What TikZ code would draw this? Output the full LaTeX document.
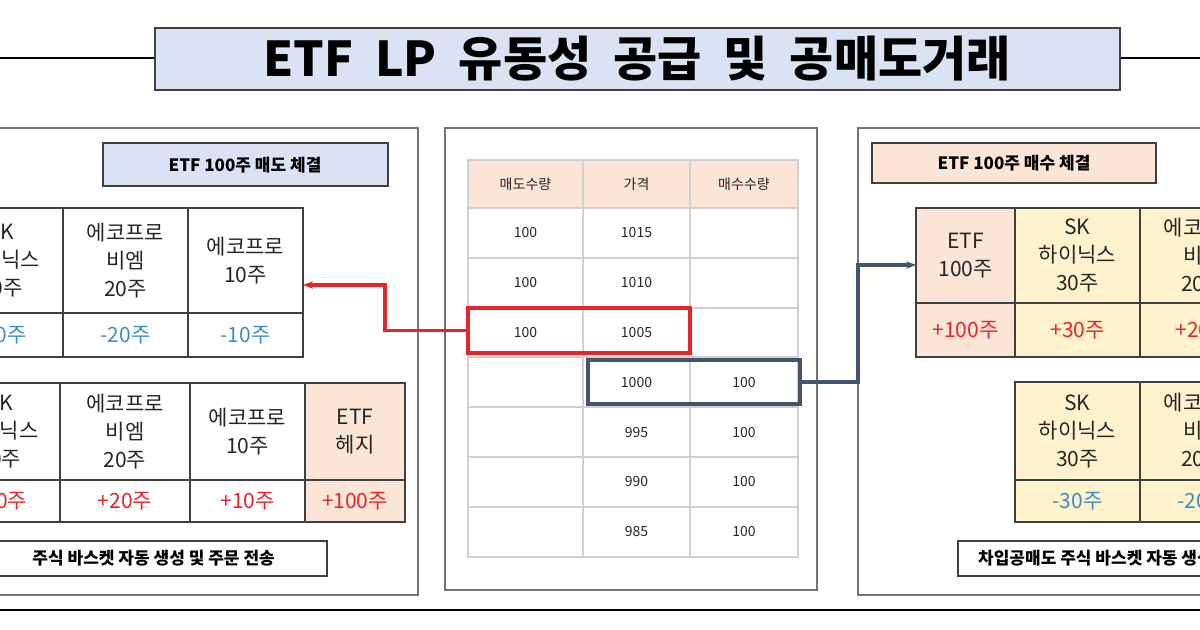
\documentclass[tikz,border=0pt]{standalone}
\usepackage{fontspec}
\setmainfont{Noto Sans CJK KR}
\newfontfamily\kr{Noto Sans CJK KR}
\usetikzlibrary{arrows.meta}
\definecolor{peach}{HTML}{FBE5D6}
\definecolor{lblue}{HTML}{DAE3F3}
\definecolor{lyel}{HTML}{FFF2CC}
\definecolor{nred}{HTML}{E8242B}
\definecolor{nblue}{HTML}{3A8FC8}
\definecolor{dk}{HTML}{404040}
\definecolor{navy}{HTML}{44546A}
\newcommand{\cellbox}[7]{\path[fill=#6,draw=dk,line width=1.2pt] (#2,#3) rectangle (#4,#5);
 \node[txt] (#1) at ({(#2+#4)/2},{(#3+#5)/2}) {#7};}
\newcommand{\obcell}[7]{\path[fill=#6,draw=black!18,line width=1pt] (#2,#3) rectangle (#4,#5);
 \node[obt] (#1) at ({(#2+#4)/2},{(#3+#5)/2}) {#7};}
\tikzset{txt/.style={align=center,font=\fontsize{10.5}{14}\selectfont,text=black!85,inner sep=0pt},
 obt/.style={font=\fontsize{7}{9}\selectfont,text=black!85,inner sep=0pt},
 panel/.style={draw=black!55,line width=1pt},
 lab/.style={draw=dk,line width=1.2pt,font=\fontsize{8.5}{11}\selectfont\bfseries,inner sep=0pt}}
\begin{document}
\begin{tikzpicture}[x=0.5pt,y=-0.5pt]
\useasboundingbox (0,0) rectangle (1200,630);
\clip (0,0) rectangle (1200,630);
\fill[white] (0,0) rectangle (1200,630);
% title
\draw[black,line width=1pt] (0,58) -- (155,58) (1120,58) -- (1200,58);
\path[fill=lblue,draw=dk,line width=1.4pt] (155,28) rectangle (1120,90);
\node[font=\fontsize{24}{28}\selectfont\bfseries] (title) at (637,59) {ETF\ \ LP\ \ 유동성\ \ 공급\ \ 및\ \ 공매도거래};
\draw[black,line width=1pt] (0,610) -- (1200,610);
% panels
\draw[panel] (-5,128) rectangle (418,595);
\draw[panel] (445,128) rectangle (817,590);
\draw[panel] (858,128) rectangle (1205,595);
% left panel
\path[fill=lblue,draw=dk,line width=1.2pt] (103,143) rectangle (388,186);
\node[lab,draw=none] (lt) at (245,165) {ETF 100주 매도 체결};
\cellbox{a1}{-60}{208}{63}{313}{white}{SK\\하이닉스\\30주}
\cellbox{a2}{63}{208}{188}{313}{white}{에코프로\\비엠\\20주}
\cellbox{a3}{188}{208}{303}{313}{white}{에코프로\\10주}
\cellbox{b1}{-60}{313}{63}{357}{white}{\textcolor{nblue}{-30주}}
\cellbox{b2}{63}{313}{188}{357}{white}{\textcolor{nblue}{-20주}}
\cellbox{b3}{188}{313}{303}{357}{white}{\textcolor{nblue}{-10주}}
\cellbox{c1}{-60}{383}{60}{480}{white}{SK\\하이닉스\\30주}
\cellbox{c2}{60}{383}{190}{480}{white}{에코프로\\비엠\\20주}
\cellbox{c3}{190}{383}{305}{480}{white}{에코프로\\10주}
\cellbox{c4}{305}{383}{405}{480}{peach}{ETF\\헤지}
\cellbox{d1}{-60}{480}{60}{522}{white}{\textcolor{nred}{+30주}}
\cellbox{d2}{60}{480}{190}{522}{white}{\textcolor{nred}{+20주}}
\cellbox{d3}{190}{480}{305}{522}{white}{\textcolor{nred}{+10주}}
\cellbox{d4}{305}{480}{405}{522}{peach}{\textcolor{nred}{+100주}}
\path[fill=white,draw=dk,line width=1.2pt] (-10,541) rectangle (327,576);
\node[lab,draw=none,anchor=east] (lb) at (276,558) {주식 바스켓 자동 생성 및 주문 전송};
% order book
\obcell{h1}{468}{160}{583}{208}{peach}{매도수량}
\obcell{h2}{583}{160}{690}{208}{peach}{가격}
\obcell{h3}{690}{160}{798}{208}{peach}{매수수량}
\foreach \i/\s/\p/\b in {0/100/1015/,1/100/1010/,2/100/1005/,3//1000/100,4//995/100,5//990/100,6//985/100}{
 \pgfmathsetmacro\ya{208+49.8*\i}\pgfmathsetmacro\yb{258+49.8*\i}
 \obcell{s\i}{468}{\ya}{583}{\yb}{white}{\s}
 \obcell{p\i}{583}{\ya}{690}{\yb}{white}{\p}
 \obcell{q\i}{690}{\ya}{798}{\yb}{white}{\b}
}
\node[draw=nred,line width=1.6pt,minimum width=111pt,minimum height=22.5pt,inner sep=0pt] (red) at (579,330.5) {};
\node[draw=navy,line width=1.6pt,minimum width=106pt,minimum height=22pt,inner sep=0pt] (blk) at (694,382) {};
\draw[nred,line width=1.6pt,-{Stealth[length=5pt]}] (red.west) -- (385,330.5) |- (303,285);
\draw[navy,line width=1.6pt,-{Stealth[length=5pt]}] (blk.east) -- (858,382) |- (916,265);
% right panel
\path[fill=peach,draw=dk,line width=1.2pt] (872,143) rectangle (1156,183);
\node[lab,draw=none] (rt) at (1014,163) {ETF 100주 매수 체결};
\cellbox{e1}{916}{208}{1015}{303}{peach}{ETF\\100주}
\cellbox{e2}{1015}{208}{1140}{303}{lyel}{SK\\하이닉스\\30주}
\cellbox{e3}{1140}{208}{1265}{303}{lyel}{에코프로\\비엠\\20주}
\cellbox{f1}{916}{303}{1015}{357}{peach}{\textcolor{nred}{+100주}}
\cellbox{f2}{1015}{303}{1140}{357}{lyel}{\textcolor{nred}{+30주}}
\cellbox{f3}{1140}{303}{1265}{357}{lyel}{\textcolor{nred}{+20주}}
\cellbox{g1}{1015}{382}{1140}{480}{lyel}{SK\\하이닉스\\30주}
\cellbox{g2}{1140}{382}{1265}{480}{lyel}{에코프로\\비엠\\20주}
\cellbox{k1}{1015}{480}{1140}{522}{lyel}{\textcolor{nblue}{-30주}}
\cellbox{k2}{1140}{480}{1265}{522}{lyel}{\textcolor{nblue}{-20주}}
\path[fill=white,draw=dk,line width=1.2pt] (958,541) rectangle (1260,576);
\node[lab,draw=none,anchor=west] (rb) at (977,558) {차입공매도 주식 바스켓 자동 생성 및 주문 전송};
\end{tikzpicture}
\end{document}
